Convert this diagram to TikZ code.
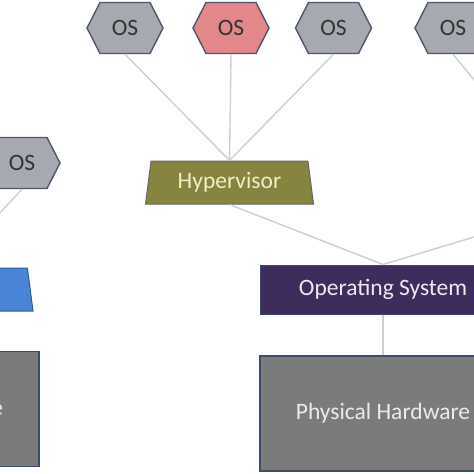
\documentclass[tikz,border=0pt]{standalone}
\usepackage{fontspec}
\setmainfont{Carlito}
\usetikzlibrary{shapes.geometric,shapes.symbols}
\definecolor{hexfill}{HTML}{A7A9B1}
\definecolor{hexline}{HTML}{4E5868}
\definecolor{redfill}{HTML}{E3878A}
\definecolor{conn}{HTML}{CBCFD6}
\definecolor{olive}{HTML}{86843F}
\definecolor{olivetext}{HTML}{F3EDC9}
\definecolor{purple}{HTML}{3E2C5C}
\definecolor{hwgray}{HTML}{7B7B7D}
\definecolor{hwline}{HTML}{3D4B6B}
\definecolor{bluefill}{HTML}{4A84D6}
\tikzset{
  x=1pt, y=-1pt,
  txt/.style={font=\fontsize{23.5}{28}\selectfont},
  oshex/.style={txt, shape=signal, signal to=east and west, signal pointer angle=126,
     draw=hexline, line width=1.4pt, fill=hexfill, text=black!80,
     minimum width=76pt, minimum height=51pt, inner sep=0pt},
  hyper/.style={txt, shape=trapezium, trapezium left angle=74.4, trapezium right angle=74.4,
     trapezium stretches body, draw=black!60, line width=1pt,
     minimum width=168pt, minimum height=43pt, inner sep=0pt},
  osbox/.style={txt, rectangle, draw=hwline, fill=purple, text=white!90!purple, line width=1pt,
     minimum width=246pt, minimum height=49pt, inner sep=0pt},
  hwbox/.style={txt, rectangle, draw=hwline, fill=hwgray, text=white!92!black, line width=1.6pt,
     minimum width=246pt, minimum height=115pt, inner sep=0pt},
  link/.style={draw=conn, line width=1.4pt},
}
\begin{document}
\begin{tikzpicture}
\useasboundingbox (0,0) rectangle (474,474);
\fill[white] (0,0) rectangle (474,474);
\clip (0,0) rectangle (474,474);
% nodes
\node[oshex] (h1) at (125,28) {OS};
\node[oshex, fill=redfill] (h2) at (231,28) {OS};
\node[oshex] (h3) at (333.5,28) {OS};
\node[oshex] (h4) at (453,28) {OS};
\node[oshex] (hl) at (22,163) {OS};
\node[hyper, fill=olive, text=olivetext] (hv) at (229.5,182.5) {Hypervisor};
\node[hyper, fill=bluefill, draw=bluefill!70!black] (hvl) at (-51,289.5) {\phantom{Hypervisor}};
\node[osbox] (os) at (383,289.5) {Operating System};
\node[hwbox] (hw) at (383,413.5) {Physical Hardware};
\node[hwbox] (hwl) at (-84,409) {Physical Hardware};
\coordinate (hvr) at (541,161);
\coordinate (offr) at (580,205);
% connectors
\draw[link] (h1.south) -- (hv.north);
\draw[link] (h2.south) -- (hv.north);
\draw[link] (h3.south) -- (hv.north);
\draw[link] (h4.south) -- (hvr);
\draw[link] (hl.south) -- (hvl.north);
\draw[link] (hv.south) -- (os.north);
\draw[link] (offr) -- (os.north);
\draw[link] (os.south) -- (hw.north);
\end{tikzpicture}
\end{document}
